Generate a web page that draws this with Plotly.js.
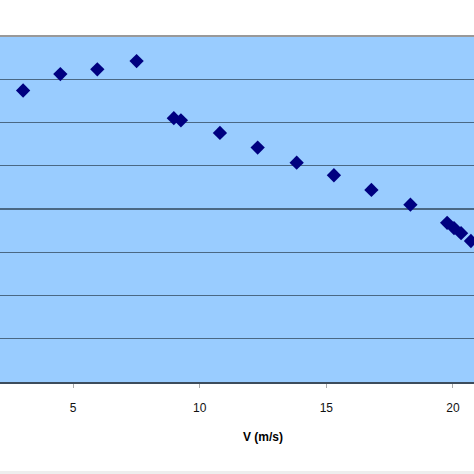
<!DOCTYPE html>
<html>
<head>
<meta charset="utf-8">
<script src="https://cdn.plot.ly/plotly-3.0.1.min.js"></script>
<style>
  html, body { margin: 0; padding: 0; background: #fff; }
  #myPlot { width: 474px; height: 474px; }
</style>
</head>
<body>
<div id="myPlot"></div>
<script>
const speed = [3.03, 4.50, 5.96, 7.51, 8.98, 9.26, 10.80, 12.29, 13.83, 15.30, 16.78, 18.32, 19.77, 20.04, 20.32, 20.71];
const value = [0.337, 0.356, 0.3615, 0.371, 0.305, 0.3025, 0.288, 0.271, 0.2535, 0.239, 0.222, 0.205, 0.184, 0.178, 0.172, 0.163];

const xTitle = 'V (m/s)';

const data = [{
    x: speed,
    y: value,
    mode: 'markers',
    type: 'scatter',
    marker: {symbol: 'diamond', size: 11, color: '#000080'},
    showlegend: false
}];

const layout = {
    width: 474,
    height: 474,
    margin: {l: 0, r: 0, t: 36, b: 92},
    paper_bgcolor: '#ffffff',
    plot_bgcolor: '#99ccff',
    font: {family: 'Liberation Sans, Arial, sans-serif', size: 12, color: '#000'},
    xaxis: {
        range: [2.118, 20.83],
        tick0: 0,
        dtick: 5,
        ticks: 'outside',
        ticklen: 4,
        tickcolor: '#aaaaaa',
        ticklabelstandoff: 10,
        showgrid: false,
        zeroline: false,
        showline: true,
        linecolor: '#3c4c5c',
        linewidth: 1.5,
        automargin: false,
        tickfont: {size: 12, color: '#111'}
    },
    yaxis: {
        range: [0, 0.4],
        dtick: 0.05,
        showticklabels: false,
        ticks: '',
        showgrid: true,
        gridcolor: '#4a6884',
        gridwidth: 1.2,
        zeroline: false,
        automargin: false
    },
    annotations: [{
        text: '<b>' + xTitle + '</b>',
        xref: 'x', yref: 'paper',
        x: 12.5, y: 0,
        yshift: -55,
        yanchor: 'middle',
        showarrow: false,
        font: {size: 12, color: '#000'}
    }],
    shapes: [
        {type: 'line', xref: 'paper', yref: 'paper', x0: 0, x1: 1, y0: 1, y1: 1,
         line: {color: '#999999', width: 2}},
        {type: 'rect', xref: 'paper', yref: 'paper', x0: 0, x1: 1, y0: -0.257, y1: -0.27,
         fillcolor: '#eeeeee', line: {width: 0}, layer: 'below'}
    ]
};

Plotly.newPlot('myPlot', data, layout, {displayModeBar: false, staticPlot: true});
</script>
</body>
</html>
